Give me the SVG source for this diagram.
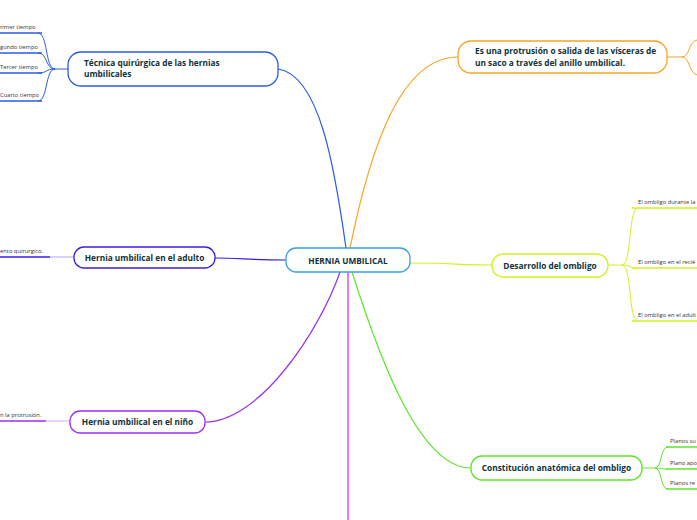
<svg xmlns="http://www.w3.org/2000/svg" width="697" height="520" viewBox="0 0 697 520">
<style>
.n{fill:#fff;stroke-width:1.3}
.t{font-family:"Open Sans","Liberation Sans",sans-serif;font-weight:bold;font-size:8.3px;fill:#10323a}
.l{font-family:"Open Sans","Liberation Sans",sans-serif;font-size:5.8px;fill:#333}
.c{fill:none;stroke-width:1.2}
</style>
<rect width="697" height="520" fill="#fff"/>
<g id="connectors">
<path class="c" stroke="#2b5ce6" d="M346,248 C335,170 320,75 278,69"/>
<path class="c" stroke="#3a1ee0" d="M286,260 C250,260 240,258 215,258"/>
<path class="c" stroke="#9b30f0" d="M340,272 C320,330 260,422 205,422"/>
<path class="c" stroke="#f5a623" d="M350,248 C370,150 400,57 458,57"/>
<path class="c" stroke="#d4f020" d="M410,263 C450,263 460,265 492,265"/>
<path class="c" stroke="#5ce62a" d="M352,272 C380,360 420,468 471,468"/>
<path class="c" stroke="#e020e0" d="M348,272 L348,520"/>
<g stroke="#2b5ce6" fill="none">
<path d="M68,69 H55 C45,69 48,33 38,33 M55,69 C45,69 48,53 38,53 M55,69 C45,69 48,73 38,73 M55,69 C45,69 48,101 38,101"/>
<path stroke-width="1.6" d="M0,33 H42 M0,53 H42 M0,73 H42 M0,101 H42"/>
</g>
<path stroke="#3a1ee0" stroke-width="1.6" d="M0,257 H50" fill="none"/>
<path stroke="#3a1ee0" stroke-opacity="0.4" d="M50,257 H74" fill="none"/>
<path stroke="#9b30f0" stroke-width="1.6" d="M0,421 H46" fill="none"/>
<path stroke="#9b30f0" stroke-opacity="0.4" d="M46,421 H70" fill="none"/>
<g stroke="#d4f020" fill="none">
<path d="M608,265 H622 C632,265 628,208 638,208 M622,265 C632,265 628,268 638,268 M622,265 C632,265 628,321 638,321"/>
<path stroke-width="1.6" d="M632,208 H697 M632,268 H697 M632,321 H697"/>
</g>
<g stroke="#5ce62a" fill="none">
<path d="M642,468 H655 C662,468 660,447 668,447 M655,468 C662,468 660,469 668,469 M655,468 C662,468 660,489 668,489"/>
<path stroke-width="1.6" d="M666,447 H697 M666,469 H697 M666,489 H697"/>
</g>
<g stroke="#f5a623" fill="none">
<path d="M667,57 H682 C690,57 688,42 697,40 M682,57 C690,57 688,72 697,75"/>
</g>
</g>
<g id="center"><rect class="n" stroke="#3aa0e0" x="286" y="248" width="124" height="24" rx="10"/><text class="t" x="348" y="264" text-anchor="middle" font-size="10">HERNIA UMBILICAL</text></g>
<g id="tecnica"><rect class="n" stroke="#2b5ce6" x="68" y="52" width="210" height="34" rx="13"/><text class="t" x="84" y="66">Técnica quirúrgica de las hernias</text><text class="t" x="84" y="77">umbilicales</text></g>
<g id="adulto"><rect class="n" stroke="#3a1ee0" x="74" y="247" width="141" height="21" rx="10"/><text class="t" x="144.5" y="260.5" text-anchor="middle">Hernia umbilical en el adulto</text></g>
<g id="nino"><rect class="n" stroke="#9b30f0" x="70" y="411" width="135" height="22" rx="10"/><text class="t" x="137.5" y="425" text-anchor="middle">Hernia umbilical en el niño</text></g>
<g id="protrusion"><rect class="n" stroke="#f5a623" x="458" y="41" width="209" height="32" rx="13"/><text class="t" x="475" y="54">Es una protrusión o salida de las vísceras de</text><text class="t" x="475" y="66">un saco a través del anillo umbilical.</text></g>
<g id="desarrollo"><rect class="n" stroke="#d4f020" x="492" y="254" width="116" height="23" rx="11"/><text class="t" x="550" y="268.5" text-anchor="middle">Desarrollo del ombligo</text></g>
<g id="constitucion"><rect class="n" stroke="#5ce62a" x="471" y="456" width="171" height="24" rx="11"/><text class="t" x="556.5" y="471" text-anchor="middle">Constitución anatómica del ombligo</text></g>
<g id="leaves">
<text class="l" x="0" y="29">rimer tiempo</text>
<text class="l" x="0" y="49">gundo tiempo</text>
<text class="l" x="0" y="69">Tercer tiempo</text>
<text class="l" x="0" y="97">Cuarto tiempo</text>
<text class="l" x="0" y="253">ento quirurgico.</text>
<text class="l" x="0" y="417">n la protrusión.</text>
<text class="l" x="638" y="204">El ombligo durante la</text>
<text class="l" x="638" y="264">El ombligo en el recié</text>
<text class="l" x="638" y="317">El ombligo en el adult</text>
<text class="l" x="670" y="443">Planos su</text>
<text class="l" x="670" y="465">Plano apo</text>
<text class="l" x="670" y="485">Planos re</text>
</g>
</svg>
